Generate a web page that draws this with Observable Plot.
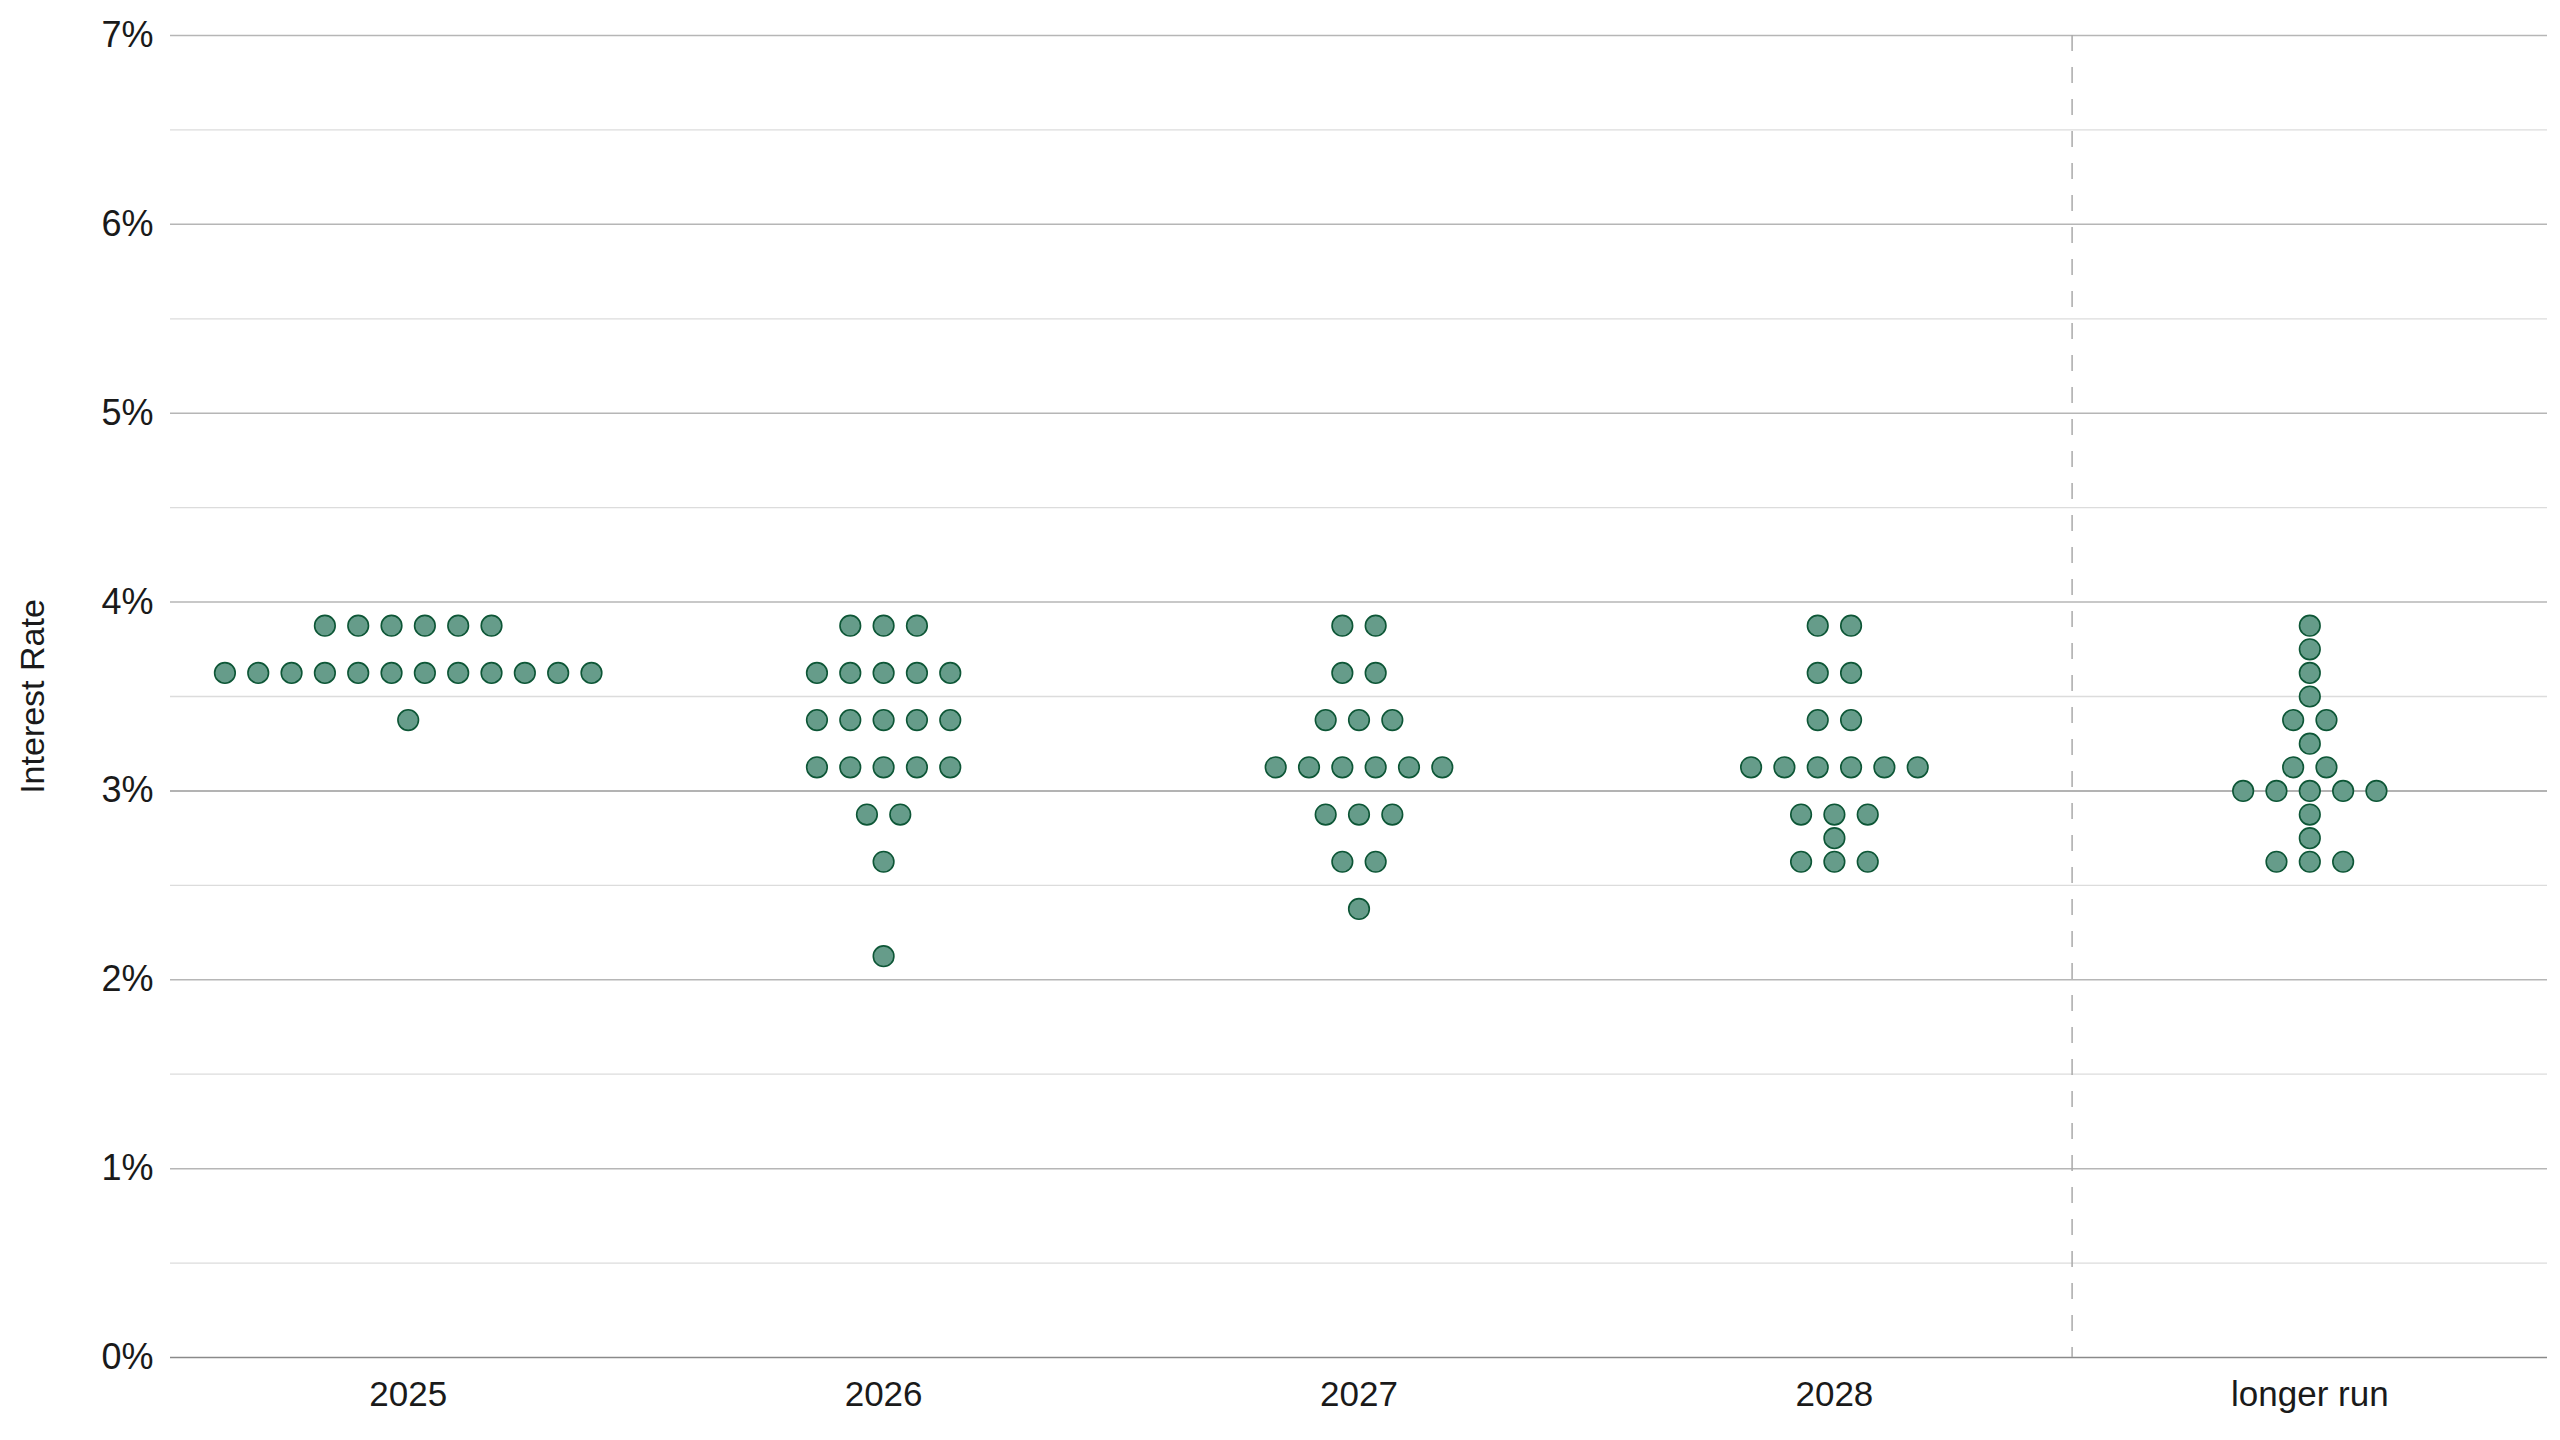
<!DOCTYPE html>
<html>
<head>
<meta charset="utf-8">
<script src="https://cdn.jsdelivr.net/npm/d3@7"></script>
<script src="https://cdn.jsdelivr.net/npm/@observablehq/plot@0.6"></script>
<style>
  html, body { margin: 0; padding: 0; background: #fff; }
  #chart { width: 2560px; height: 1440px; }
</style>
</head>
<body>
<div id="chart"></div>
<script>
// Categories (x axis)
const categories = ["2025", "2026", "2027", "2028", "longer run"];

// Rate levels (%) and number of participant dots at each level, per category
const levels2025 = [3.875, 3.625, 3.375];
const counts2025 = [6, 12, 1];

const levels2026 = [3.875, 3.625, 3.375, 3.125, 2.875, 2.625, 2.125];
const counts2026 = [3, 5, 5, 5, 2, 1, 1];

const levels2027 = [3.875, 3.625, 3.375, 3.125, 2.875, 2.625, 2.375];
const counts2027 = [2, 2, 3, 6, 3, 2, 1];

const levels2028 = [3.875, 3.625, 3.375, 3.125, 2.875, 2.75, 2.625];
const counts2028 = [2, 2, 2, 6, 3, 1, 3];

const levelsLonger = [3.875, 3.75, 3.625, 3.5, 3.375, 3.25, 3.125, 3.0, 2.875, 2.75, 2.625];
const countsLonger = [1, 1, 1, 1, 2, 1, 2, 5, 1, 1, 3];

// Y tick labels
const yTicks = [0, 1, 2, 3, 4, 5, 6, 7];
const yMinorTicks = [0.5, 1.5, 2.5, 3.5, 4.5, 5.5, 6.5];

// Build the dot table
const allLevels = [levels2025, levels2026, levels2027, levels2028, levelsLonger];
const allCounts = [counts2025, counts2026, counts2027, counts2028, countsLonger];
const dotStep = 0.0701; // horizontal spacing between dots in a row, in category units
const dots = [];
categories.forEach((cat, i) => {
  allLevels[i].forEach((rate, j) => {
    const n = allCounts[i][j];
    for (let k = 0; k < n; k++) {
      dots.push({cat: i, rate, off: k - (n - 1) / 2});
    }
  });
});

const chart = Plot.plot({
  width: 2560,
  height: 1440,
  marginLeft: 170,
  marginRight: 13,
  marginTop: 35,
  marginBottom: 83,
  style: {fontFamily: "'Liberation Sans', Arial, Helvetica, sans-serif", background: "#fff", color: "#1a1a1a"},
  x: {domain: [-0.5, categories.length - 0.5]},
  y: {domain: [0, 7]},
  marks: [
    Plot.ruleY(yMinorTicks, {stroke: "#dcdcdc", strokeWidth: 1.3}),
    Plot.ruleY(yTicks.filter(t => t > 0 && t !== 3), {stroke: "#b6b6b6", strokeWidth: 1.5}),
    Plot.ruleY([3], {stroke: "#9a9a9a", strokeWidth: 1.5}),
    Plot.ruleY([0], {stroke: "#8a8a8a", strokeWidth: 1.6}),
    Plot.ruleX([categories.length - 1.5], {stroke: "#aaaaaa", strokeWidth: 1.5, strokeDasharray: "16,16"}),
    Plot.axisY({ticks: yTicks, tickFormat: d => d + "%", tickSize: 0, tickPadding: 17, fontSize: 36, label: null}),
    Plot.axisX({ticks: d3.range(categories.length), tickFormat: i => categories[i], tickSize: 0, tickPadding: 24, fontSize: 35, label: null}),
    Plot.text(["Interest Rate"], {frameAnchor: "left", textAnchor: "middle", dx: -137, rotate: -90, fontSize: 34, fill: "#1a1a1a"}),
    Plot.dot(dots, {x: d => d.cat + d.off * dotStep, y: "rate", r: 10.3, fill: "#669c8a", stroke: "#0d5636", strokeWidth: 1.6})
  ]
});
document.getElementById("chart").appendChild(chart);
</script>
</body>
</html>
